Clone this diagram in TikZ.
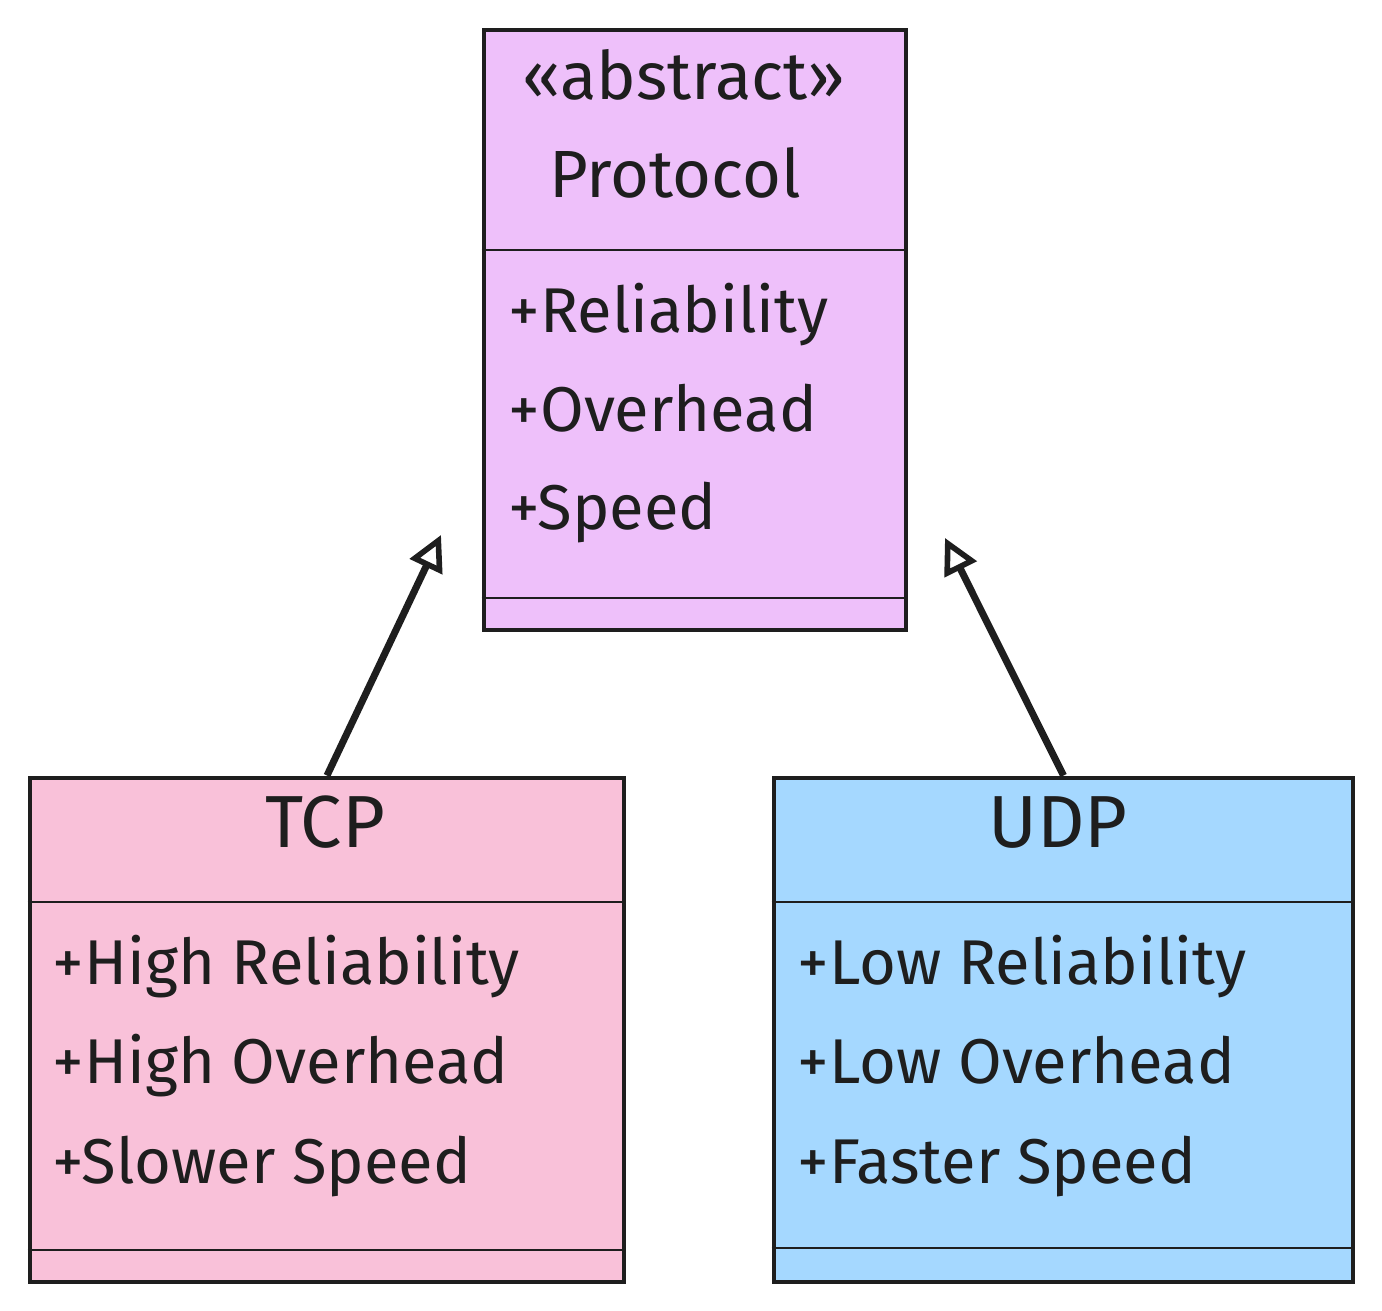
\documentclass[tikz,border=0pt]{standalone}
\usepackage{fontspec}
\setmainfont{Fira Sans}
\usepackage{tikz}
\usetikzlibrary{arrows.meta, positioning, calc}
\definecolor{protofill}{HTML}{EEC0FA}
\definecolor{tcpfill}{HTML}{F9C1D9}
\definecolor{udpfill}{HTML}{A5D8FF}
\definecolor{ink}{HTML}{1E1E1E}
\tikzset{
    classbox/.style={ % the outline of a class
        draw=ink,
        line width=1.4pt,
        rectangle,
        inner sep=0pt
    },
    divider/.style={draw=ink, line width=0.8pt},
    member/.style={anchor=base west, inner sep=0pt, text=ink, font=\fontsize{18}{20}\selectfont},
    title/.style={anchor=base, inner sep=0pt, text=ink, font=\fontsize{19}{22}\selectfont},
    inherit/.style={ % generalisation arrow
        draw=ink,
        line width=2pt,
        -{Triangle[open, length=10pt, width=10pt, line width=1.6pt]}
    }
}
\begin{document}
\begin{tikzpicture}
    \useasboundingbox (0,0) rectangle (13.82,-13.11);
    % boxes
    \node[classbox, fill=protofill, minimum width=4.22cm, minimum height=6.00cm] (proto) at (6.95,-3.30) {};
    \node[classbox, fill=tcpfill, minimum width=5.94cm, minimum height=5.04cm] (tcp) at (3.27,-10.30) {};
    \node[classbox, fill=udpfill, minimum width=5.79cm, minimum height=5.04cm] (udp) at (10.635,-10.30) {};
    % dividers
    \draw[divider] (proto.west |- 0,-2.50) -- (proto.east |- 0,-2.50)
                   (proto.west |- 0,-5.98) -- (proto.east |- 0,-5.98);
    \draw[divider] (tcp.west |- 0,-9.02) -- (tcp.east |- 0,-9.02)
                   (tcp.west |- 0,-12.50) -- (tcp.east |- 0,-12.50);
    \draw[divider] (udp.west |- 0,-9.02) -- (udp.east |- 0,-9.02)
                   (udp.west |- 0,-12.48) -- (udp.east |- 0,-12.48);
    % titles
    \node[title] (abs) at (6.84,-1.00) {«abstract»};
    \node[title] (protoname) at (6.75,-1.98) {Protocol};
    \node[title, font=\fontsize{21}{24}\selectfont] (tcpname) at (3.25,-8.48) {TCP};
    \node[title, font=\fontsize{21}{24}\selectfont] (udpname) at (10.58,-8.48) {UDP};
    % members
    \node[member] (p1) at (5.08,-3.33) {+Reliability};
    \node[member] (p2) at (5.08,-4.32) {+Overhead};
    \node[member] (p3) at (5.08,-5.30) {+Speed};
    \node[member] (t1) at (0.52,-9.85) {+High Reliability};
    \node[member] (t2) at (0.52,-10.83) {+High Overhead};
    \node[member] (t3) at (0.52,-11.83) {+Slower Speed};
    \node[member] (u1) at (7.97,-9.85) {+Low Reliability};
    \node[member] (u2) at (7.97,-10.83) {+Low Overhead};
    \node[member] (u3) at (7.97,-11.83) {+Faster Speed};
    % inheritance
    \coordinate (tcptip) at (4.41,-5.35);
    \coordinate (udptip) at (9.45,-5.38);
    \draw[inherit] (tcp.north) -- (tcptip);
    \draw[inherit] (udp.north) -- (udptip);
\end{tikzpicture}
\end{document}
